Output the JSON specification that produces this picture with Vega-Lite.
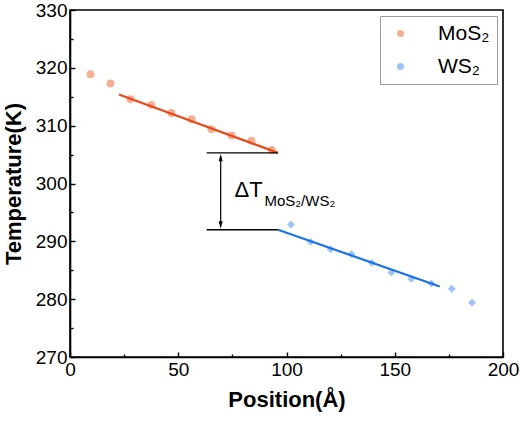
{
  "$schema": "https://vega.github.io/schema/vega-lite/v6.json",
  "width": 433,
  "height": 347,
  "autosize": {"type": "none"},
  "padding": {"left": 70, "top": 10, "right": 17, "bottom": 65},
  "background": "white",
  "view": {"stroke": "black", "strokeWidth": 1.6},
  "config": {
    "font": "Liberation Sans",
    "axis": {
      "domainColor": "black",
      "domainWidth": 1.6,
      "tickColor": "black",
      "tickWidth": 1.4,
      "grid": false,
      "labelFlush": false,
      "labelFont": "Liberation Sans",
      "labelFontSize": 19,
      "labelColor": "black",
      "titleFont": "Liberation Sans",
      "titleFontSize": 22,
      "titleFontWeight": "bold",
      "titleColor": "black"
    }
  },
  "datasets": {
    "points": [
      {"series": "MoS₂", "x": 9.5, "T": 318.9},
      {"series": "MoS₂", "x": 18.7, "T": 317.3},
      {"series": "MoS₂", "x": 27.9, "T": 314.6},
      {"series": "MoS₂", "x": 37.6, "T": 313.6},
      {"series": "MoS₂", "x": 46.8, "T": 312.2},
      {"series": "MoS₂", "x": 56.2, "T": 311.1},
      {"series": "MoS₂", "x": 65.3, "T": 309.4},
      {"series": "MoS₂", "x": 74.6, "T": 308.3},
      {"series": "MoS₂", "x": 83.8, "T": 307.4},
      {"series": "MoS₂", "x": 93.2, "T": 305.8},
      {"series": "WS₂", "x": 102.1, "T": 292.9},
      {"series": "WS₂", "x": 111.2, "T": 289.9},
      {"series": "WS₂", "x": 120.4, "T": 288.6},
      {"series": "WS₂", "x": 130.1, "T": 287.8},
      {"series": "WS₂", "x": 139.4, "T": 286.3},
      {"series": "WS₂", "x": 148.4, "T": 284.6},
      {"series": "WS₂", "x": 157.7, "T": 283.5},
      {"series": "WS₂", "x": 166.9, "T": 282.7},
      {"series": "WS₂", "x": 176.3, "T": 281.8},
      {"series": "WS₂", "x": 185.7, "T": 279.4}
    ],
    "fits": [
      {"series": "MoS₂", "x": 22.6, "T": 315.4},
      {"series": "MoS₂", "x": 96.1, "T": 305.3},
      {"series": "WS₂", "x": 96.1, "T": 292.0},
      {"series": "WS₂", "x": 170.8, "T": 282.2}
    ],
    "levels": [
      {"x": 63.1, "x2": 96.0, "T": 305.3},
      {"x": 63.1, "x2": 96.0, "T": 292.0}
    ],
    "arrow": [
      {"x": 69.6, "T": 293.0, "T2": 304.3}
    ],
    "heads": [
      {"end": "top", "x": 69.6, "T": 304.3},
      {"end": "bottom", "x": 69.6, "T": 293.0}
    ],
    "labels": [
      {"part": "main", "text": "ΔT", "x": 76.0, "T": 298.9},
      {"part": "sub", "text": "MoS₂/WS₂", "x": 89.8, "T": 296.9}
    ]
  },
  "encoding": {
    "x": {
      "field": "x",
      "type": "quantitative",
      "scale": {"domain": [0, 200], "nice": false},
      "axis": {
        "title": "Position(Å)",
        "values": [0, 25, 50, 75, 100, 125, 150, 175, 200],
        "labelExpr": "datum.value % 50 === 0 ? datum.label : ''",
        "tickSize": {"condition": {"test": "datum.value % 50 === 0", "value": -5}, "value": -3},
        "labelPadding": 8,
        "titlePadding": 10
      }
    },
    "y": {
      "field": "T",
      "type": "quantitative",
      "scale": {"domain": [270, 330], "nice": false, "zero": false},
      "axis": {
        "title": "Temperature(K)",
        "values": [270, 275, 280, 285, 290, 295, 300, 305, 310, 315, 320, 325, 330],
        "labelExpr": "datum.value % 10 === 0 ? datum.label : ''",
        "tickSize": {"condition": {"test": "datum.value % 10 === 0", "value": -5}, "value": -3},
        "labelPadding": 8,
        "titlePadding": 10
      }
    }
  },
  "layer": [
    {
      "data": {"name": "points"},
      "mark": {"type": "point", "filled": true, "opacity": 0.85, "size": 62},
      "encoding": {
        "color": {
          "field": "series",
          "type": "nominal",
          "scale": {"domain": ["MoS₂", "WS₂"], "range": ["#f4a083", "#8cbaf4"]},
          "legend": {
            "title": null,
            "orient": "top-right",
            "offset": 6,
            "padding": 7,
            "strokeColor": "#999",
            "fillColor": "white",
            "labelFontSize": 21,
            "labelFont": "Liberation Sans",
            "labelColor": "black",
            "labelOffset": 27,
            "rowPadding": 11,
            "symbolSize": 50,
            "symbolOffset": 3,
            "symbolOpacity": 0.85
          }
        },
        "shape": {
          "field": "series",
          "type": "nominal",
          "scale": {"domain": ["MoS₂", "WS₂"], "range": ["circle", "diamond"]},
          "legend": null
        }
      }
    },
    {
      "data": {"name": "fits"},
      "transform": [{"filter": "datum.series === 'MoS₂'"}],
      "mark": {"type": "line", "color": "#ea4a1a", "strokeWidth": 2.2},
      "encoding": {}
    },
    {
      "data": {"name": "fits"},
      "transform": [{"filter": "datum.series === 'WS₂'"}],
      "mark": {"type": "line", "color": "#1a72e6", "strokeWidth": 2.2},
      "encoding": {}
    },
    {
      "data": {"name": "levels"},
      "mark": {"type": "rule", "color": "black", "strokeWidth": 1.4},
      "encoding": {"x2": {"field": "x2"}}
    },
    {
      "data": {"name": "arrow"},
      "mark": {"type": "rule", "color": "black", "strokeWidth": 1.2},
      "encoding": {"y2": {"field": "T2"}}
    },
    {
      "data": {"name": "heads"},
      "mark": {"type": "point", "filled": true, "color": "black", "opacity": 1, "size": 45},
      "encoding": {
        "shape": {
          "field": "end",
          "type": "nominal",
          "scale": {"domain": ["top", "bottom"], "range": ["M0,-1.4L-0.6,0.8L0.6,0.8Z", "M0,1.4L-0.6,-0.8L0.6,-0.8Z"]},
          "legend": null
        }
      }
    },
    {
      "data": {"name": "labels"},
      "transform": [{"filter": "datum.part === 'main'"}],
      "mark": {"type": "text", "align": "left", "baseline": "middle", "fontSize": 22, "color": "black"},
      "encoding": {"text": {"field": "text"}}
    },
    {
      "data": {"name": "labels"},
      "transform": [{"filter": "datum.part === 'sub'"}],
      "mark": {"type": "text", "align": "left", "baseline": "middle", "fontSize": 15, "color": "black"},
      "encoding": {"text": {"field": "text"}}
    }
  ],
  "resolve": {"scale": {"shape": "independent"}}
}
